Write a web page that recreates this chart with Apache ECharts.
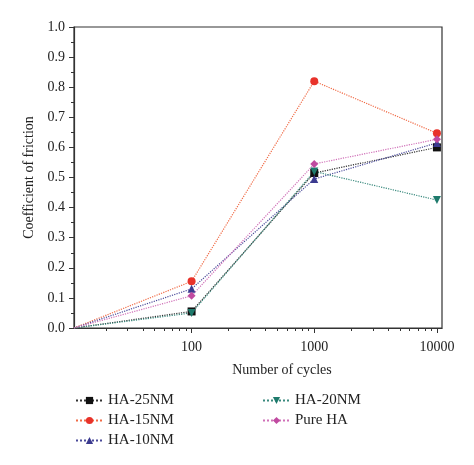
<!DOCTYPE html>
<html>
<head>
<meta charset="utf-8">
<script src="https://cdn.jsdelivr.net/npm/echarts@6/dist/echarts.min.js"></script>
<style>
  html, body { margin: 0; padding: 0; background: #fff; }
  #chart { width: 474px; height: 465px; }
</style>
</head>
<body>
<div id="chart"></div>
<script>
// x 值（循环次数），第一个点是坐标原点
var cycles = [11, 100, 1000, 10000];
var seriesNames = ['HA-25NM', 'HA-15NM', 'HA-10NM', 'HA-20NM', 'Pure HA'];
var ha25 = [0, 0.055, 0.515, 0.600];
var ha15 = [0, 0.155, 0.820, 0.647];
var ha10 = [0, 0.130, 0.495, 0.615];
var ha20 = [0, 0.050, 0.520, 0.425];
var pureHA = [0, 0.107, 0.545, 0.627];
var majorTicks = [100, 1000, 10000];
var minorTicks = [20, 30, 40, 50, 60, 70, 80, 90, 200, 300, 400, 500, 600, 700, 800, 900,
  2000, 3000, 4000, 5000, 6000, 7000, 8000, 9000];

var font = '"Liberation Serif", "DejaVu Serif", serif';
var axisColor = '#333';

function makeSeries(name, values, color, lineColor, symbol, rotate) {
  var data = [];
  for (var i = 0; i < cycles.length; i++) {
    if (i === 0) {
      data.push({ value: [cycles[i], values[i]], symbol: 'none' });
    } else {
      data.push([cycles[i], values[i]]);
    }
  }
  return {
    name: name,
    type: 'line',
    data: data,
    symbol: symbol,
    symbolSize: 8,
    symbolRotate: rotate || 0,
    itemStyle: { color: color },
    lineStyle: { color: lineColor, type: 'dotted', width: 1.2 },
    clip: false
  };
}

var chart = echarts.init(document.getElementById('chart'));

var legendBase = {
  orient: 'vertical',
  top: 388,
  itemWidth: 27, itemHeight: 9, itemGap: 5,
  textStyle: { fontFamily: font, fontSize: 15, color: '#222' }
};

var option = {
  backgroundColor: '#ffffff',
  animation: false,
  grid: {
    left: 74, right: 32, top: 27, bottom: 137,
    show: true, borderColor: axisColor, borderWidth: 1.2, backgroundColor: 'transparent'
  },
  legend: [
    Object.assign({}, legendBase, { left: 70, data: seriesNames.slice(0, 3) }),
    Object.assign({}, legendBase, { left: 257, data: seriesNames.slice(3) })
  ],
  xAxis: [
    {
      type: 'log',
      min: 11, max: 11000,
      name: 'Number of cycles',
      nameLocation: 'middle',
      nameGap: 35,
      nameTextStyle: { fontFamily: font, fontSize: 14, color: '#222', padding: [0, 0, 0, 48] },
      axisLine: { lineStyle: { color: axisColor, width: 1.2 } },
      axisTick: { length: 5, lineStyle: { color: axisColor }, customValues: majorTicks },
      axisLabel: {
        fontFamily: font, fontSize: 14, color: '#222', margin: 12, customValues: majorTicks,
        formatter: function (v) { return String(v); }
      },
      splitLine: { show: false }
    },
    {
      type: 'log',
      min: 11, max: 11000,
      position: 'bottom',
      axisLine: { show: false },
      axisTick: { length: 3, lineStyle: { color: axisColor }, customValues: minorTicks },
      axisLabel: { show: false },
      splitLine: { show: false }
    }
  ],
  yAxis: {
    type: 'value',
    min: 0, max: 1, interval: 0.1,
    name: 'Coefficient of friction',
    nameLocation: 'middle',
    nameGap: 38,
    nameTextStyle: { fontFamily: font, fontSize: 14, color: '#222' },
    axisLine: { show: true, lineStyle: { color: axisColor, width: 1.2 } },
    axisTick: { show: true, length: 5, lineStyle: { color: axisColor } },
    minorTick: { show: true, splitNumber: 2, length: 3, lineStyle: { color: axisColor } },
    axisLabel: {
      fontFamily: font, fontSize: 14, color: '#222', margin: 9,
      formatter: function (v) { return v.toFixed(1); }
    },
    splitLine: { show: false }
  },
  series: [
    makeSeries('HA-25NM', ha25, '#111111', '#333333', 'rect'),
    makeSeries('HA-15NM', ha15, '#e8322a', '#f06a45', 'circle'),
    makeSeries('HA-10NM', ha10, '#3b3a8f', '#4a4a9a', 'triangle'),
    makeSeries('HA-20NM', ha20, '#1e7a6c', '#3a8a7e', 'triangle', 180),
    makeSeries('Pure HA', pureHA, '#c04aa0', '#d070b8', 'diamond')
  ]
};

chart.setOption(option);
</script>
</body>
</html>
